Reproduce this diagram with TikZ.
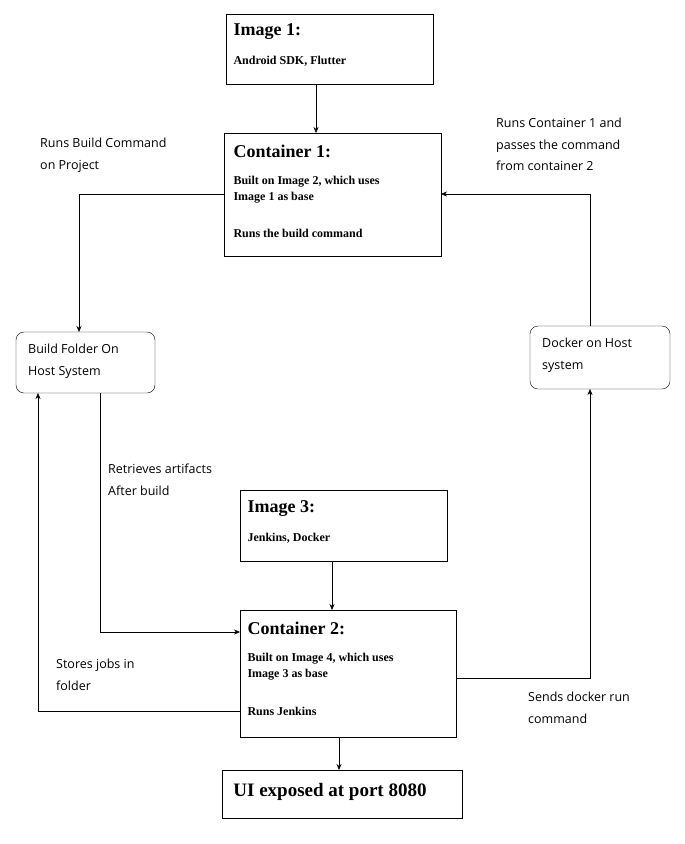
\documentclass[tikz,border=0pt]{standalone}
\usepackage{fontspec}
\setmainfont{Liberation Serif}
\newfontfamily\lblfont{Open Sans}
\usetikzlibrary{arrows.meta}
\begin{document}
\begin{tikzpicture}[x=1pt,y=-1pt,
  box/.style={draw,thick,inner sep=0},
  rbox/.style={draw,rounded corners=8pt,inner sep=0},
  ttl/.style={anchor=west,font=\fontsize{18}{20}\selectfont\bfseries},
  sub/.style={anchor=west,font=\fontsize{12}{16}\selectfont\bfseries,align=left},
  lbl/.style={anchor=north west,font=\lblfont\fontsize{12.5}{21.5}\selectfont,align=left,inner sep=0},
  arr/.style={-{Stealth[length=6pt,width=5pt]}}]
\useasboundingbox (0,0) rectangle (685,844);
% boxes
\draw[thick] (226,14) rectangle (433,84);
\node[ttl] (i1t) at (230,32) {Image 1:};
\node[sub] (i1s) at (230,61) {Android SDK, Flutter};
\draw[thick] (224,133) rectangle (441,256);
\node[ttl] (c1t) at (230,151) {Container 1:};
\node[sub,anchor=north west] (c1s) at (230,173) {Built on Image 2, which uses\\Image 1 as base};
\node[sub] (c1r) at (230,233) {Runs the build command};
\draw[rounded corners=8pt] (16,332) rectangle (155,393);
\node[lbl] (bf) at (28,344) {Build Folder On\\Host System};
\draw[rounded corners=8pt] (530,326) rectangle (670,389);
\node[lbl] (dk) at (542,338) {Docker on Host\\system};
\draw[thick] (240,490) rectangle (447,561);
\node[ttl] (i3t) at (244,509) {Image 3:};
\node[sub] (i3s) at (244,538) {Jenkins, Docker};
\draw[thick] (240,610) rectangle (456,737);
\node[ttl] (c2t) at (244,628) {Container 2:};
\node[sub,anchor=north west] (c2s) at (244,650) {Built on Image 4, which uses\\Image 3 as base};
\node[sub] (c2r) at (244,711) {Runs Jenkins};
\draw[thick] (222,770) rectangle (462,818);
\node[font=\fontsize{19}{21}\selectfont\bfseries] (ui) at (330,792) {UI exposed at port 8080};
% arrows
\draw[arr] (316,84) -- (316,133);
\draw[arr] (224,194) -- (79,194) -- (79,332);
\draw[arr] (590,326) -- (590,194) -- (441,194);
\draw[arr] (100,393) -- (100,632) -- (240,632);
\draw[arr] (240,711) -- (38,711) -- (38,393);
\draw[arr] (456,678) -- (590,678) -- (590,389);
\draw[arr] (332,561) -- (332,610);
\draw[arr] (339,737) -- (339,770);
% labels
\node[lbl] (l1) at (40,138) {Runs Build Command\\on Project};
\node[lbl] (l2) at (496,118) {Runs Container 1 and\\passes the command\\from container 2};
\node[lbl] (l3) at (108,464) {Retrieves artifacts\\After build};
\node[lbl] (l4) at (56,659) {Stores jobs in\\folder};
\node[lbl] (l5) at (528,692) {Sends docker run\\command};
\end{tikzpicture}
\end{document}
